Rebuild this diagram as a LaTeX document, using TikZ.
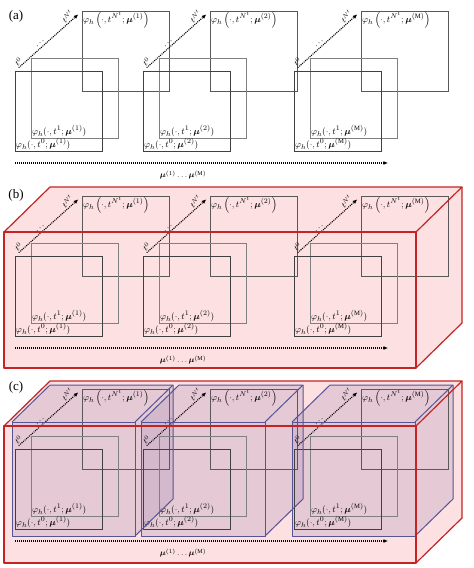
\documentclass[tikz,border=0pt]{standalone}
\usepackage{amsmath}
\usepackage{fontspec}
\setmainfont{Liberation Serif}
\usetikzlibrary{arrows.meta}

\definecolor{pinkfill}{RGB}{252,224,226}
\definecolor{redline}{RGB}{196,36,36}
\definecolor{blueline}{RGB}{86,84,150}
\definecolor{bluefill}{RGB}{150,128,168}

% filled silhouette and visible edges of a box seen from the front
\newcommand{\cubfill}[7]{%
  \fill[#7] (#1,#2) -- ({#1+#5},{#2+#6}) -- ({#3+#5},{#2+#6}) -- ({#3+#5},{#4+#6}) -- (#3,#4) -- (#1,#4) -- cycle;}
\newcommand{\cubedge}[7]{%
  \draw[#7] (#1,#2) rectangle (#3,#4);
  \draw[#7] (#1,#2) -- ({#1+#5},{#2+#6}) -- ({#3+#5},{#2+#6}) -- (#3,#2);
  \draw[#7] ({#3+#5},{#2+#6}) -- ({#3+#5},{#4+#6}) -- (#3,#4);}

\tikzset{
  snap/.style={draw, rectangle, minimum width=87pt, minimum height=80pt,
    inner sep=0pt, outer sep=0pt, anchor=north west, line width=0.8pt},
  frontsnap/.style={snap, draw=black!75},
  midsnap/.style={snap, draw=black!50},
  backsnap/.style={snap, draw=black!65},
  field/.style={inner sep=0.8pt, font=\fontsize{9.5}{11}\selectfont},
  timeaxis/.style={line width=1.1pt, dash pattern=on 1pt off 1pt,
    -{Latex[length=4.5pt,width=4pt]}, shorten <=5pt, shorten >=5pt},
  muaxis/.style={line width=1.1pt, dash pattern=on 1pt off 1pt,
    -{Latex[length=4.5pt,width=4pt]}},
  tlabel/.style={sloped, above, inner sep=1pt, font=\fontsize{8.5}{10}\selectfont},
  panel/.style={font=\fontsize{13}{15}\selectfont},
  redfill/.style={fill=pinkfill},
  redbox/.style={draw=redline, line width=1.2pt, line join=round},
  bluebody/.style={fill=bluefill, fill opacity=0.22},
  bluebox/.style={draw=blueline, line width=1pt, line join=round},
}

\begin{document}
\begin{tikzpicture}[x=1pt, y=-1pt]
    \useasboundingbox (0,0) rectangle (474,568);

    % Boxes behind (b) and (c)
    \cubfill{4}{232}{416}{368}{46}{-45}{redfill}
    \cubfill{4}{426}{416}{563}{46}{-45}{redfill}
    \cubfill{12}{422}{135}{536}{38}{-37}{bluebody}
    \cubfill{141}{422}{265}{536}{38}{-37}{bluebody}
    \cubfill{292}{422}{415}{536}{38}{-37}{bluebody}

    % Snapshots
    \foreach \p/\s in {a/0, b/185, c/378} {
      \foreach \g/\x/\m in {1/15/1, 2/143/2, 3/294/\mathrm{M}} {
        \node (bk-\p\g) [backsnap] at (\x+67, 11+\s) {};
        \node (md-\p\g) [midsnap] at (\x+16, 58+\s) {};
        \node (fr-\p\g) [frontsnap] at (\x, 71+\s) {};
        \node (lb-\p\g) [field, anchor=north west] at (bk-\p\g.north west)
          {$\varphi_h\left(\cdot,t^{N^t};\boldsymbol{\mu}^{(\m)}\right)$};
        \node (lm-\p\g) [field, anchor=south west] at (md-\p\g.south west)
          {$\varphi_h(\cdot,t^1;\boldsymbol{\mu}^{(\m)})$};
        \node (lf-\p\g) [field, anchor=south west] at (fr-\p\g.south west)
          {$\varphi_h(\cdot,t^0;\boldsymbol{\mu}^{(\m)})$};
        \draw[timeaxis] (fr-\p\g.north west) -- (bk-\p\g.north west)
          node (t0-\p\g) [tlabel, pos=0.1] {$t^0$}
          node (td-\p\g) [tlabel, pos=0.42] {$\cdots$}
          node (tn-\p\g) [tlabel, pos=0.84] {$t^{N^t}$};
      }
      \coordinate (ha-\p) at (15, 163+\s);
      \coordinate (hb-\p) at (388, 163+\s);
      \draw[muaxis] (ha-\p) -- (hb-\p);
      \node (mu-\p) [field, font=\fontsize{8.5}{10}\selectfont] at (183, 175+\s)
        {$\boldsymbol{\mu}^{(1)}\ldots\boldsymbol{\mu}^{(\mathrm{M})}$};
    }

    % Edges
    \cubedge{12}{422}{135}{536}{38}{-37}{bluebox}
    \cubedge{141}{422}{265}{536}{38}{-37}{bluebox}
    \cubedge{292}{422}{415}{536}{38}{-37}{bluebox}
    \cubedge{4}{232}{416}{368}{46}{-45}{redbox}
    \cubedge{4}{426}{416}{563}{46}{-45}{redbox}

    % Panel labels
    \node (pa) [panel] at (16, 16) {(a)};
    \node (pb) [panel] at (16, 195) {(b)};
    \node (pc) [panel] at (16, 387) {(c)};
\end{tikzpicture}
\end{document}
